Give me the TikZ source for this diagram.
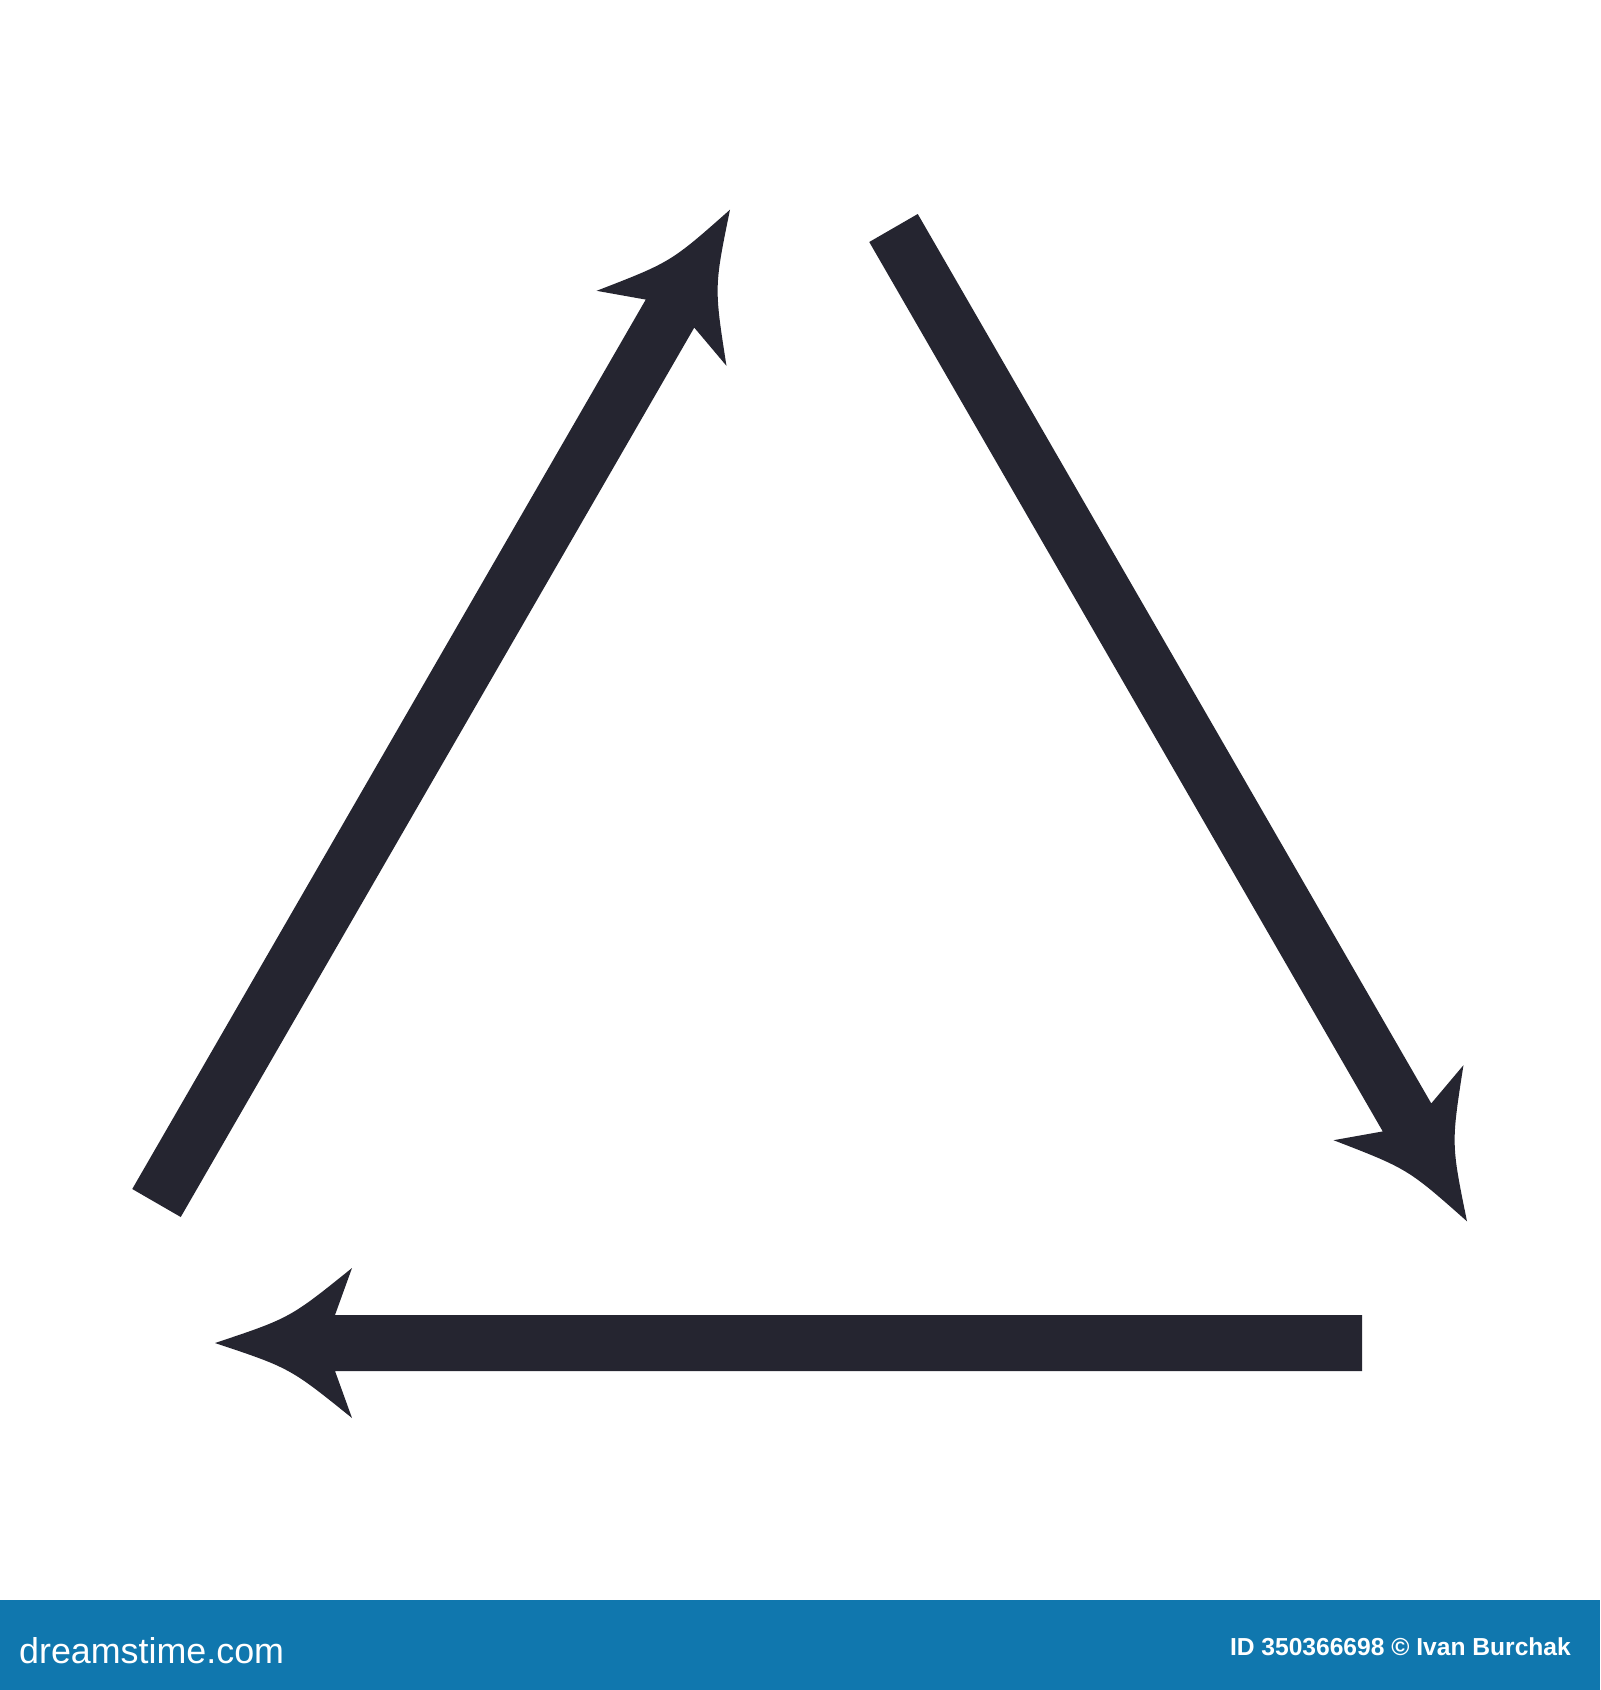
\documentclass[tikz,border=0pt]{standalone}
\usepackage{fontspec}
\setmainfont{Liberation Sans}
\definecolor{ink}{RGB}{37,37,48}
\definecolor{barblue}{RGB}{16,119,174}
\tikzset{
  bigarrow/.pic={
    \fill[ink] (0,28) -- (1027,28) -- (1010,75) .. controls (1072,25) .. (1147,0)
      .. controls (1072,-25) .. (1010,-75) -- (1027,-28) -- (0,-28) -- cycle;
  },
  footertext/.style={text=white, inner sep=0pt}
}
\begin{document}
\begin{tikzpicture}[x=0.05cm,y=0.05cm]
  \useasboundingbox (0,0) rectangle (1600,-1690);
  \fill[white] (0,0) rectangle (1600,-1690);
  % arrow tails
  \coordinate (tailL) at (156.5,-1203);
  \coordinate (tailR) at (893.5,-228);
  \coordinate (tailB) at (1362,-1343);
  \pic[rotate=60] at (tailL) {bigarrow};
  \pic[rotate=-60] at (tailR) {bigarrow};
  \pic[rotate=180] at (tailB) {bigarrow};
  % footer bar
  \fill[barblue] (0,-1600) rectangle (1600,-1690);
  \node[footertext, anchor=base west, font=\fontsize{51}{51}\selectfont] (logo) at (19,-1663) {dreamstime.com};
  \node[footertext, anchor=base east, font=\bfseries\fontsize{35}{35}\selectfont] (credit) at (1571,-1655) {ID 350366698 © Ivan Burchak};
\end{tikzpicture}
\end{document}
